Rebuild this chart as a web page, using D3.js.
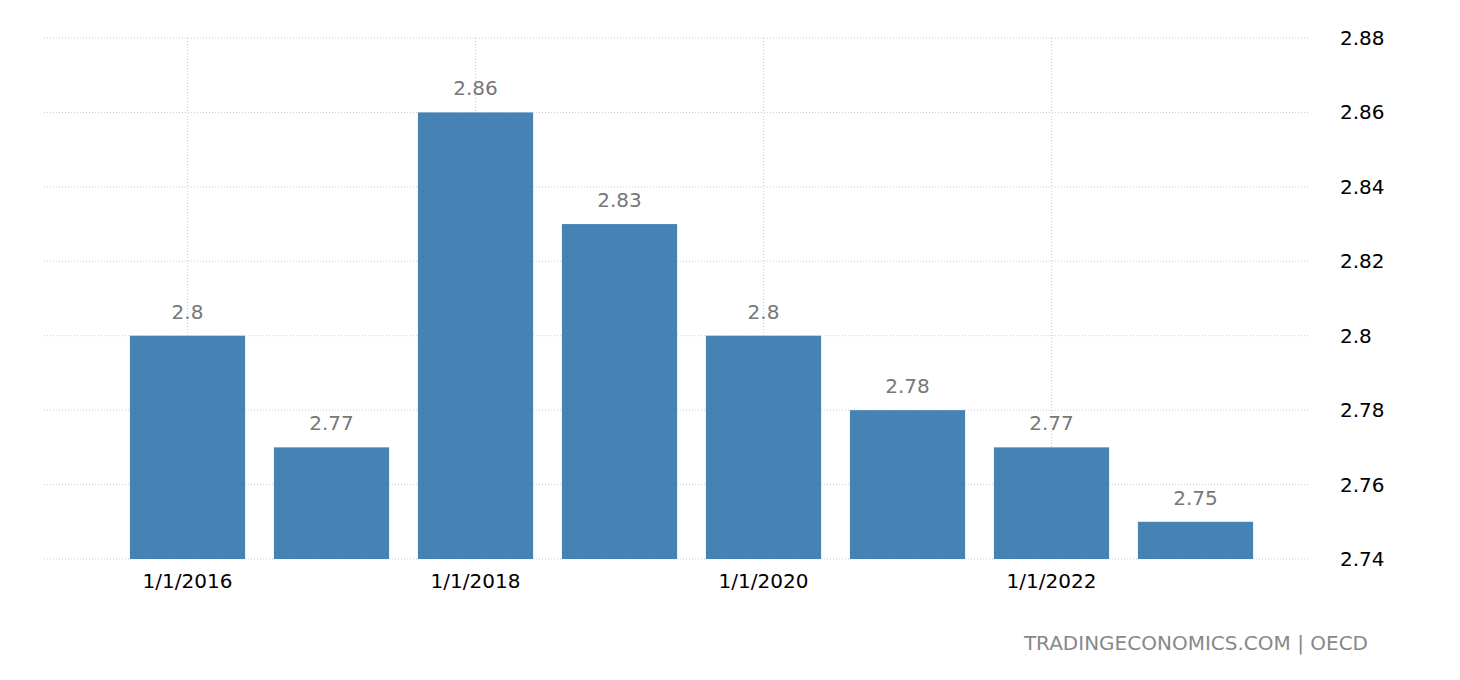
<!DOCTYPE html>
<html><head><meta charset="utf-8">
<script src="https://cdn.jsdelivr.net/npm/d3@7"></script>
<style>body{margin:0;background:#fff}text{font-family:"DejaVu Sans",sans-serif}</style>
</head><body><svg id="chart" width="1460" height="680"></svg>
<script>
const years = ["2016","2017","2018","2019","2020","2021","2022","2023"];
const values = [2.8, 2.77, 2.86, 2.83, 2.8, 2.78, 2.77, 2.75];
const yTicks = [2.74, 2.76, 2.78, 2.8, 2.82, 2.84, 2.86, 2.88];
const xLabelYears = ["2016","2018","2020","2022"];

const svg = d3.select("#chart");
const x = d3.scaleBand().domain(years).range([115.5, 1267.5]).paddingInner(0.2).paddingOuter(0.1);
const y = d3.scaleLinear().domain([2.74, 2.88]).range([559, 38]);

// horizontal grid
svg.append("g").selectAll("line").data(yTicks).join("line")
  .attr("x1", 44).attr("x2", 1310)
  .attr("y1", d => y(d)).attr("y2", d => y(d))
  .attr("stroke", "#ccc").attr("stroke-dasharray", "1,2");
// vertical grid
svg.append("g").selectAll("line").data(xLabelYears).join("line")
  .attr("x1", d => x(d) + x.bandwidth() / 2).attr("x2", d => x(d) + x.bandwidth() / 2)
  .attr("y1", 38).attr("y2", 559)
  .attr("stroke", "#ccc").attr("stroke-dasharray", "1,2");

svg.append("g").selectAll("rect").data(values).join("rect")
  .attr("x", (d, i) => x(years[i])).attr("width", x.bandwidth())
  .attr("y", d => y(d)).attr("height", d => y(2.74) - y(d))
  .attr("fill", "#4682b4");

svg.append("g").selectAll("text").data(values).join("text")
  .attr("x", (d, i) => x(years[i]) + x.bandwidth() / 2).attr("y", d => y(d) - 17)
  .attr("text-anchor", "middle").attr("font-size", 20).attr("fill", "#777")
  .text(d => d);

svg.append("g").selectAll("text").data(yTicks).join("text")
  .attr("x", 1340).attr("y", d => y(d) + 7)
  .attr("font-size", 20).attr("fill", "#000")
  .text(d => d3.format("")(d));

svg.append("g").selectAll("text").data(xLabelYears).join("text")
  .attr("x", d => x(d) + x.bandwidth() / 2).attr("y", 588)
  .attr("text-anchor", "middle").attr("font-size", 20).attr("fill", "#000")
  .text(d => "1/1/" + d);

svg.append("text").attr("x", 1368).attr("y", 650).attr("text-anchor", "end")
  .attr("font-size", 20).attr("fill", "#888").text("TRADINGECONOMICS.COM | OECD");
</script></body></html>
